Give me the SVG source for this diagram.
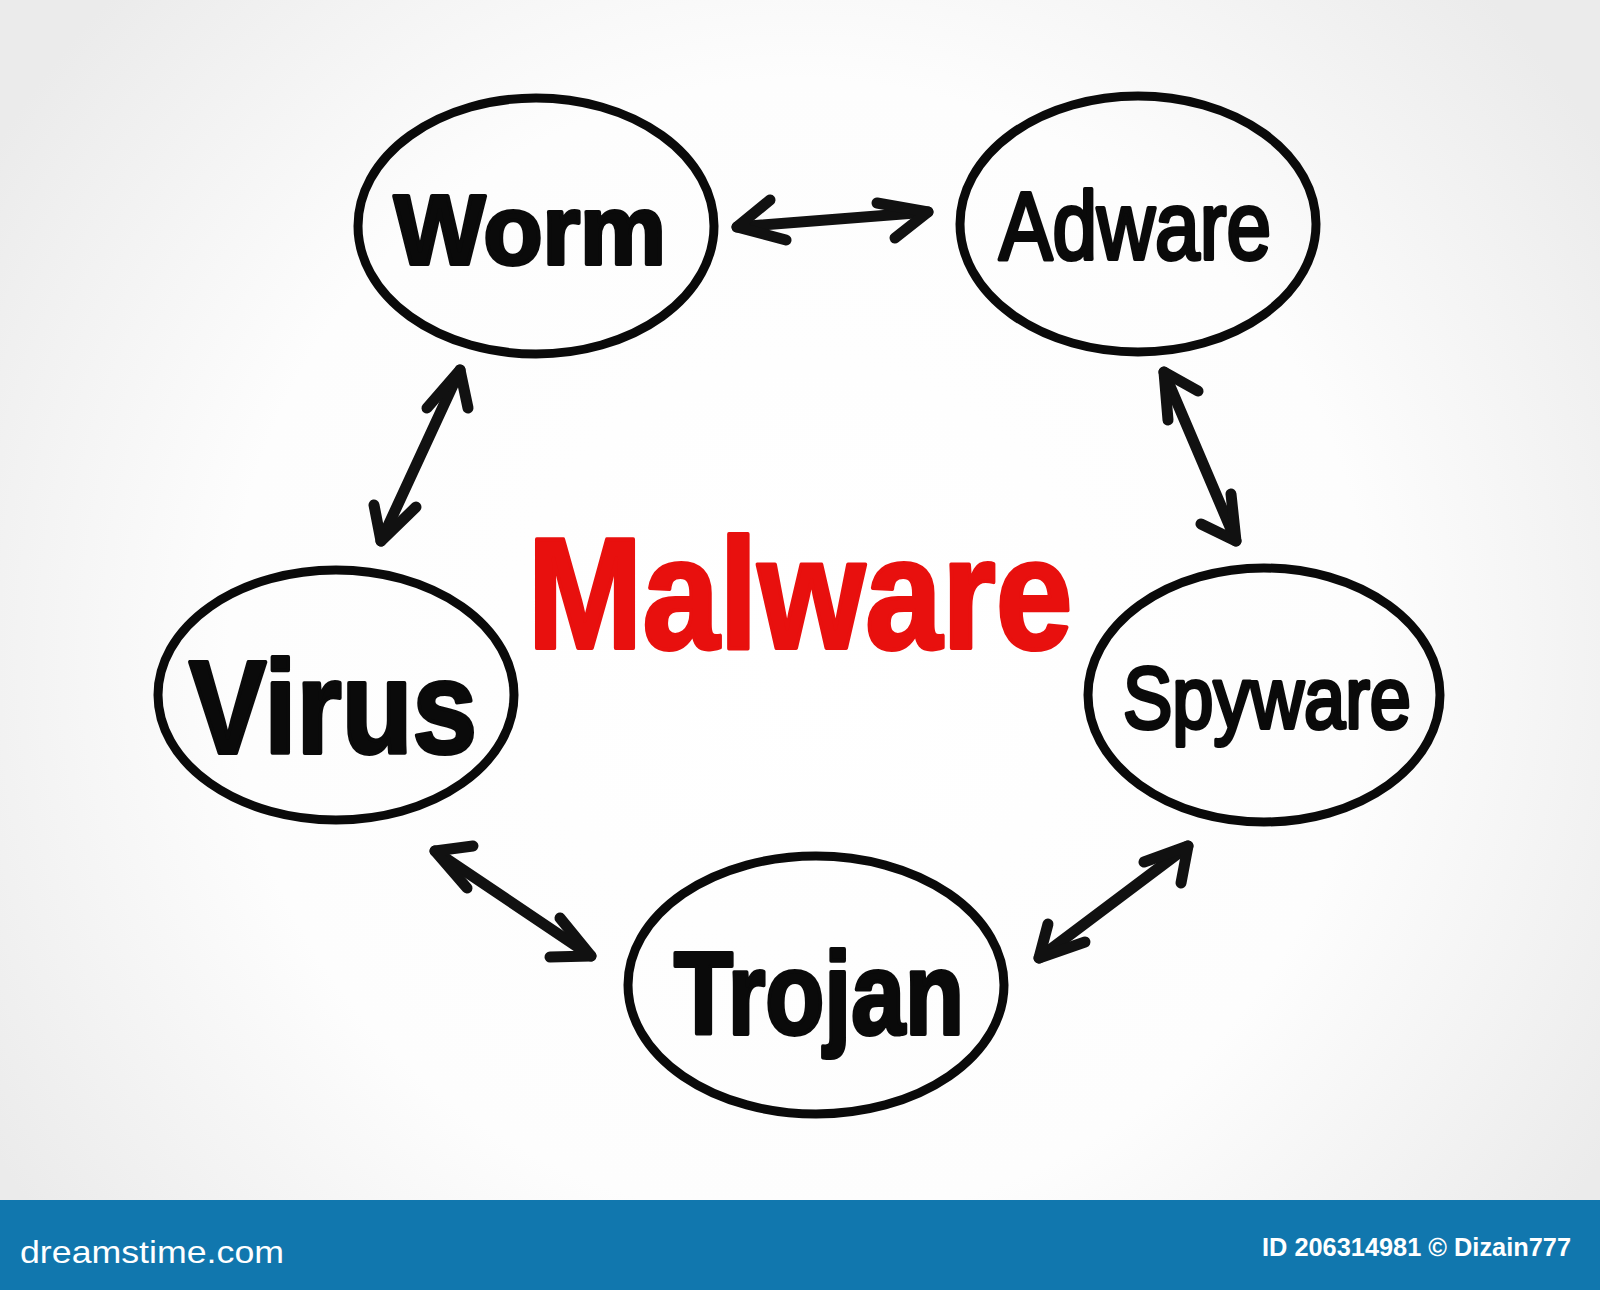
<svg xmlns="http://www.w3.org/2000/svg" width="1600" height="1290" viewBox="0 0 1600 1290">
<defs>
<radialGradient id="bg" cx="800" cy="650" r="950" gradientUnits="userSpaceOnUse">
<stop offset="0" stop-color="#ffffff"/>
<stop offset="0.6" stop-color="#fdfdfd"/>
<stop offset="1" stop-color="#ebebeb"/>
</radialGradient>
<style>
.node ellipse{fill:none;stroke:#0a0a0a;stroke-width:9}
.lbl{font-family:"Liberation Sans","DejaVu Sans",sans-serif;fill:#0a0a0a;stroke:#0a0a0a;stroke-linejoin:round;text-anchor:middle}
.heavy{font-weight:700;stroke-width:4}
.med{font-weight:400;stroke-width:4}
.conn path{fill:none;stroke:#111;stroke-width:11;stroke-linecap:round;stroke-linejoin:round}
.foot{font-family:"Liberation Sans","DejaVu Sans",sans-serif;fill:#ffffff}
</style>
</defs>
<rect width="1600" height="1290" fill="url(#bg)"/>

<g id="connectors" class="conn">
<!-- Worm - Adware -->
<path d="M737,227 L928,212"/>
<path d="M770,200 L737,227 L786,240"/>
<path d="M877,203 L928,212 L895,238"/>
<!-- Worm - Virus -->
<path d="M460,370 L381,541"/>
<path d="M427,408 L460,370 L468,408"/>
<path d="M374,505 L381,541 L416,507"/>
<!-- Adware - Spyware -->
<path d="M1164,372 L1236,541"/>
<path d="M1198,391 L1164,372 L1168,420"/>
<path d="M1231,494 L1236,541 L1201,524"/>
<!-- Virus - Trojan -->
<path d="M435,851 L591,956"/>
<path d="M473,846 L435,851 L467,888"/>
<path d="M560,918 L591,956 L550,957"/>
<!-- Spyware - Trojan -->
<path d="M1188,846 L1039,958"/>
<path d="M1144,862 L1188,846 L1181,883"/>
<path d="M1048,924 L1039,958 L1085,942"/>
</g>

<g id="node-worm" class="node">
<ellipse cx="536" cy="226" rx="178" ry="128"/>
<text class="lbl heavy" x="530" y="264" font-size="98" textLength="272" lengthAdjust="spacingAndGlyphs">Worm</text>
</g>
<g id="node-adware" class="node">
<ellipse cx="1138" cy="224" rx="178" ry="128"/>
<text class="lbl med" x="1135" y="259" font-size="96" textLength="272" lengthAdjust="spacingAndGlyphs">Adware</text>
</g>
<g id="node-virus" class="node">
<ellipse cx="336" cy="695" rx="178" ry="125"/>
<text class="lbl heavy" x="333" y="753" font-size="132" textLength="288" lengthAdjust="spacingAndGlyphs">Virus</text>
</g>
<g id="node-spyware" class="node">
<ellipse cx="1264" cy="695" rx="176" ry="127"/>
<text class="lbl med" x="1267" y="728" font-size="88" textLength="288" lengthAdjust="spacingAndGlyphs">Spyware</text>
</g>
<g id="node-trojan" class="node">
<ellipse cx="816" cy="985" rx="188" ry="129"/>
<text class="lbl heavy" x="819" y="1034" font-size="116" textLength="290" lengthAdjust="spacingAndGlyphs">Trojan</text>
</g>
<g id="node-malware">
<text x="800" y="648" font-family="'Liberation Sans','DejaVu Sans',sans-serif" font-weight="700" font-size="158" fill="#e8100e" stroke="#e8100e" stroke-width="4" stroke-linejoin="round" text-anchor="middle" textLength="545" lengthAdjust="spacingAndGlyphs">Malware</text>
</g>

<g id="footer">
<rect x="0" y="1200" width="1600" height="90" fill="#1177ae"/>
<text class="foot" x="20" y="1263" font-size="32" textLength="264" lengthAdjust="spacingAndGlyphs">dreamstime.com</text>
<text class="foot" x="1571" y="1256" font-size="25" font-weight="700" text-anchor="end" textLength="309" lengthAdjust="spacingAndGlyphs">ID 206314981 © Dizain777</text>
</g>
</svg>
